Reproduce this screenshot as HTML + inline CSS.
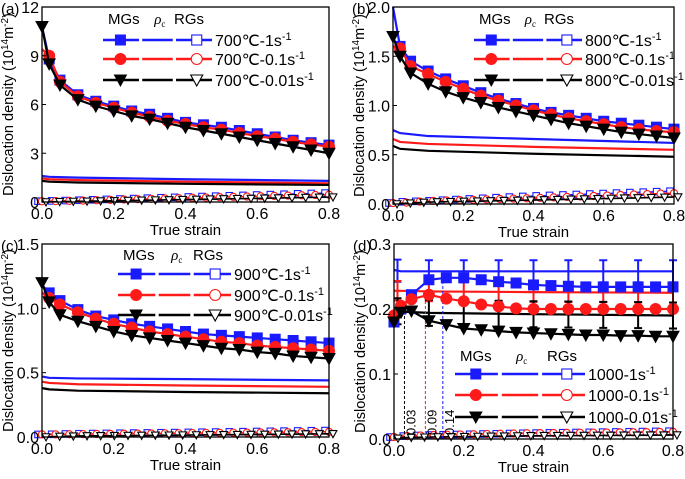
<!DOCTYPE html>
<html><head><meta charset="utf-8"><style>
body{margin:0;background:#fff;width:685px;height:474px;overflow:hidden}
svg{font-family:"Liberation Sans",Arial,sans-serif}
</style></head><body>
<svg id="c" width="685" height="474" viewBox="0 0 685 474"></svg>
<script>
const xsMG=[0,0.02,0.05,0.1,0.15,0.2,0.25,0.3,0.35,0.4,0.45,0.5,0.55,0.6,0.65,0.7,0.75,0.8];
const xsC=[0,0.02,0.1,0.4,0.8];
// panel a
const aBlue=[10.8,8.8,7.5,6.6,6.2,5.9,5.6,5.4,5.15,4.9,4.75,4.6,4.4,4.2,4.0,3.8,3.65,3.5];
const aRed=[9.4,9.0,7.4,6.5,6.1,5.8,5.5,5.25,5.0,4.8,4.6,4.45,4.25,4.05,3.9,3.7,3.55,3.4];
const aBlack=[10.8,8.5,7.2,6.3,5.9,5.6,5.3,5.1,4.85,4.6,4.4,4.2,4.0,3.8,3.6,3.4,3.2,3.0];
const aCBlue=[1.6,1.55,1.5,1.4,1.3],aCRed=[1.45,1.4,1.35,1.25,1.15],aCBlack=[1.3,1.25,1.2,1.12,1.05];
const aRBlue=[0.05,0.06,0.1,0.3,0.55],aRRed=[0.05,0.05,0.08,0.25,0.45],aRBlack=[0,0.01,0.04,0.15,0.3];
// panel b
const bBlue=[2.0,1.6,1.45,1.35,1.27,1.2,1.13,1.07,1.02,0.97,0.93,0.9,0.87,0.84,0.82,0.8,0.78,0.76];
const bRed=[1.6,1.58,1.4,1.32,1.24,1.17,1.1,1.05,1.0,0.95,0.91,0.87,0.84,0.81,0.78,0.76,0.74,0.73];
const bBlack=[1.7,1.5,1.33,1.22,1.14,1.08,1.03,0.98,0.94,0.9,0.86,0.82,0.79,0.76,0.73,0.71,0.69,0.67];
const bCBlue=[0.75,0.72,0.69,0.66,0.62],bCRed=[0.66,0.63,0.61,0.58,0.55],bCBlack=[0.59,0.56,0.54,0.51,0.48];
const bRBlue=[0.01,0.02,0.03,0.08,0.13],bRRed=[0.01,0.01,0.03,0.06,0.11],bRBlack=[0,0.005,0.02,0.04,0.07];
// panel c
const cBlue=[1.18,1.12,1.06,0.99,0.94,0.91,0.88,0.86,0.84,0.82,0.8,0.79,0.78,0.77,0.76,0.75,0.74,0.73];
const cRed=[1.12,1.08,1.03,0.97,0.92,0.88,0.85,0.82,0.8,0.78,0.76,0.74,0.73,0.71,0.7,0.69,0.68,0.67];
const cBlack=[1.2,1.05,0.95,0.9,0.86,0.82,0.79,0.77,0.75,0.73,0.71,0.69,0.68,0.66,0.65,0.63,0.62,0.61];
const cCBlue=[0.47,0.46,0.455,0.45,0.44],cCRed=[0.43,0.42,0.41,0.4,0.39],cCBlack=[0.38,0.37,0.36,0.35,0.34];
const cRBlue=[0.02,0.02,0.025,0.035,0.05],cRRed=[0.02,0.02,0.022,0.03,0.04],cRBlack=[0,0.003,0.008,0.015,0.025];
// panel d
const dBlue=[0.18,0.2,0.222,0.245,0.248,0.248,0.245,0.242,0.24,0.237,0.236,0.235,0.234,0.234,0.234,0.234,0.234,0.234];
const dRed=[0.19,0.205,0.215,0.222,0.216,0.212,0.207,0.204,0.201,0.2,0.2,0.2,0.2,0.2,0.2,0.2,0.2,0.2];
const dBlack=[0.18,0.195,0.197,0.182,0.176,0.17,0.168,0.166,0.164,0.163,0.162,0.161,0.16,0.16,0.159,0.159,0.158,0.158];
const dCBlue=[0.26,0.258,0.258,0.258,0.258],dCRed=[0.228,0.228,0.227,0.226,0.225],dCBlack=[0.197,0.196,0.194,0.192,0.19];
const dRBlue=[0.003,0.004,0.006,0.009,0.012],dRRed=[0.003,0.004,0.006,0.009,0.011],dRBlack=[0.001,0.002,0.003,0.005,0.006];
const dErrX=[0.01,0.1,0.2,0.3,0.4,0.5,0.6,0.7,0.8];
const dErr=[0.017,0.015,0.02];
const dMarks=[0.03,0.09,0.14];

const NS="http://www.w3.org/2000/svg",svg=document.getElementById('c');
function el(t,a,p){const e=document.createElementNS(NS,t);for(const k in a)e.setAttribute(k,a[k]);(p||svg).appendChild(e);return e;}
const COL=['#1a1aff','#ff1a1a','#000'];
function marker(g,kind,x,y,filled,c,sc){
  sc=sc||1;let e;
  if(kind===0)e=el('rect',{x:x-5*sc,y:y-5*sc,width:10*sc,height:10*sc},g);
  else if(kind===1)e=el('circle',{cx:x,cy:y,r:5.5*sc},g);
  else e=el('polygon',{points:`${x-6*sc},${y-5*sc} ${x+6*sc},${y-5*sc} ${x},${y+6*sc}`},g);
  e.setAttribute('fill',filled?c:'#fff');e.setAttribute('stroke',c);e.setAttribute('stroke-width',filled?1:1.1);
  return e;
}
function panel(o){
  const g=el('g',{});
  
  
  const X=v=>o.l+(o.r-o.l)*v/0.8, Y=v=>o.b-(o.b-o.t)*v/o.ymax;
  const mg=[o.blue,o.red,o.black],cc=[o.cb,o.cr,o.ck],rg=[o.rb,o.rr,o.rk];
  for(let s=0;s<3;s++){
    const pc=el('polyline',{points:xsC.map((x,i)=>X(x)+','+Y(cc[s][i])).join(' '),fill:'none',stroke:COL[s],'stroke-width':2.2},g);
    
    
    const pr=el('polyline',{points:xsC.map((x,i)=>X(x)+','+Y(rg[s][i])).join(' '),fill:'none',stroke:COL[s],'stroke-width':1.6},g);
    
    
    for(let k=0;k<=21;k++){const xv=0.8*k/21;let i=0;while(i<xsC.length-2&&xsC[i+1]<xv)i++;const f=(xv-xsC[i])/(xsC[i+1]-xsC[i]);const yv=rg[s][i]+f*(rg[s][i+1]-rg[s][i]);
      const m=marker(g,s,X(xv)+s*4-4,Y(yv),false,COL[s],0.65);}
  }
  if(o.err){for(let s=0;s<3;s++)dErrX.forEach(xv=>{let i=0;while(i<xsC.length-2&&xsC[i+1]<xv)i++;const f=(xv-xsC[i])/(xsC[i+1]-xsC[i]);const yv=cc[s][i]+f*(cc[s][i+1]-cc[s][i]);
    const e=el('path',{d:`M${X(xv)},${Y(yv-dErr[s])}V${Y(yv+dErr[s])}M${X(xv)-4},${Y(yv-dErr[s])}h8M${X(xv)-4},${Y(yv+dErr[s])}h8`,stroke:COL[s],'stroke-width':2,fill:'none'},g);
    });
    const dc=['#000','#ff1a1a','#1a1aff'];
    dMarks.forEach((v,i)=>{
      const ln=el('line',{x1:X(v),x2:X(v),y1:Y(0),y2:Y([0.197,0.222,0.247][i]),stroke:dc[i],'stroke-width':1,'stroke-dasharray':'3,2'},g);
      
      const t=el('text',{x:0,y:0,'font-size':13,transform:`translate(${X(v)+11},${Y(0)-4}) rotate(-90)`},g);t.textContent=v.toFixed(2);
      });
  }
  for(let s=0;s<3;s++){
    const p=el('polyline',{points:xsMG.map((x,i)=>X(x)+','+Y(mg[s][i])).join(' '),fill:'none',stroke:COL[s],'stroke-width':2.2},g);
    
    
    xsMG.forEach((x,i)=>{if(i===0&&s!==2&&!o.err)return;const m=marker(g,s,X(x),Y(mg[s][i]),true,COL[s]);
      });
  }
  const bx=el('rect',{x:o.l,y:o.t,width:o.r-o.l,height:o.b-o.t,fill:'none',stroke:'#000','stroke-width':1.3},g);
  
  [0,0.2,0.4,0.6,0.8].forEach(v=>{el('line',{x1:X(v),x2:X(v),y1:o.b,y2:o.b-4,stroke:'#000'},g);
    const t=el('text',{x:X(v),y:o.b+17,'font-size':16,'text-anchor':'middle'},g);t.textContent=v.toFixed(1);
    });
  o.ticks.forEach(v=>{el('line',{x1:o.l,x2:o.l+4,y1:Y(v),y2:Y(v),stroke:'#000'},g);
    const t=el('text',{x:o.l-3,y:Y(v)+6,'font-size':16,'text-anchor':'end'},g);t.textContent=o.fmt(v);
    });
  const pl=el('text',{x:o.l-41,y:o.t+7,'font-size':15},g);pl.textContent='('+o.id+')';
  
  const xt=el('text',{x:(o.l+o.r)/2,y:o.b+33,'font-size':15,'text-anchor':'middle'},g);xt.textContent='True strain';
  
  const yt=el('text',{x:0,y:0,'font-size':14.5,'text-anchor':'middle',transform:`translate(${o.l-29},${(o.t+o.b)/2}) rotate(-90)`},g);
  yt.innerHTML='Dislocation density (10<tspan dy="-5" font-size="10">14</tspan><tspan dy="5">m</tspan><tspan dy="-5" font-size="10">-2</tspan><tspan dy="5">)</tspan>';
  
  const L=o.leg;
  const hd=el('text',{x:L.x1+5,y:L.hy,'font-size':15},g);hd.textContent='MGs';
  
  const rc=el('text',{x:L.x1+(L.x2-L.x1)*0.47,y:L.hy,'font-size':15,'font-style':'italic','font-family':'Liberation Serif,serif'},g);rc.innerHTML='ρ<tspan font-size="9" dy="3" font-style="normal">c</tspan>';
  
  const rh=el('text',{x:L.x2-38,y:L.hy,'font-size':15},g);rh.textContent='RGs';
  
  L.rows.forEach((y,s)=>{const lg=el('g',{},g);
    
    const w=L.x2-L.x1;
    el('line',{x1:L.x1,x2:L.x1+w*0.33,y1:y,y2:y,stroke:COL[s],'stroke-width':2.5},lg);
    el('line',{x1:L.x1+w*0.36,x2:L.x1+w*0.64,y1:y,y2:y,stroke:COL[s],'stroke-width':2.5},lg);
    el('line',{x1:L.x1+w*0.67,x2:L.x2,y1:y,y2:y,stroke:COL[s],'stroke-width':2.5},lg);
    marker(lg,s,L.x1+w*0.16,y,true,COL[s]);marker(lg,s,L.x1+w*0.86,y,false,COL[s]);
    const t=el('text',{x:L.x2+3,y:y+6,'font-size':16},lg);t.innerHTML=o.labels[s][0]+'<tspan dy="-6" font-size="11">-1</tspan>';
  });
}
const lbl=p=>[[p+'-1s',0],[p+'-0.1s',0],[p+'-0.01s',0]];
panel({id:'a',l:42,r:329,t:7,b:202,ymax:12,ticks:[0,3,6,9,12],fmt:v=>String(v),blue:aBlue,red:aRed,black:aBlack,cb:aCBlue,cr:aCRed,ck:aCBlack,rb:aRBlue,rr:aRRed,rk:aRBlack,
  leg:{x1:103,x2:212,hy:24,rows:[40,59,80]},labels:lbl('700℃')});
panel({id:'b',l:393,r:674,t:7,b:204,ymax:2,ticks:[0,0.5,1,1.5,2],fmt:v=>v.toFixed(1),blue:bBlue,red:bRed,black:bBlack,cb:bCBlue,cr:bCRed,ck:bCBlack,rb:bRBlue,rr:bRRed,rk:bRBlack,
  leg:{x1:474,x2:582,hy:24,rows:[40,59,80]},labels:lbl('800℃')});
panel({id:'c',l:42,r:329,t:244,b:437,ymax:1.5,ticks:[0,0.5,1,1.5],fmt:v=>v.toFixed(1),blue:cBlue,red:cRed,black:cBlack,cb:cCBlue,cr:cCRed,ck:cCBlack,rb:cRBlue,rr:cRRed,rk:cRBlack,
  leg:{x1:118,x2:231,hy:260,rows:[274,295,315]},labels:lbl('900℃')});
panel({id:'d',l:394,r:673,t:244,b:439,ymax:0.3,ticks:[0,0.1,0.2,0.3],fmt:v=>v.toFixed(1),blue:dBlue,red:dRed,black:dBlack,cb:dCBlue,cr:dCRed,ck:dCBlack,rb:dRBlue,rr:dRRed,rk:dRBlack,err:true,
  leg:{x1:455,x2:585,hy:361,rows:[374,395,417]},labels:lbl('1000')});
</script>
</body></html>
